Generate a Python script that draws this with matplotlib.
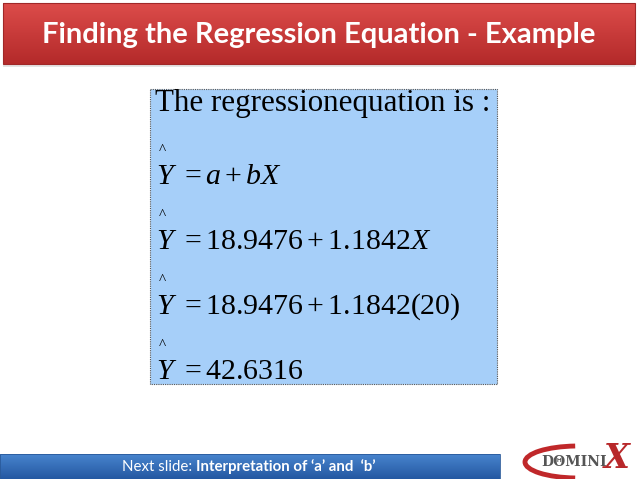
import numpy as np
import matplotlib.pyplot as plt
from matplotlib.patches import Rectangle, Arc

plt.rcParams["mathtext.fontset"] = "custom"
plt.rcParams["mathtext.rm"] = "Liberation Serif"
plt.rcParams["mathtext.it"] = "Liberation Serif:italic"

title = "Finding the Regression Equation - Example"
intro_line = "The regressionequation is :"
equations = [
    r"$Y\,\, = a + bX$",
    r"$Y\,\, = 18.9476 + 1.1842X$",
    r"$Y\,\, = 18.9476 + 1.1842(20)$",
    r"$Y\,\, = 42.6316$",
]
footer_plain = "Next slide: "
footer_bold = "Interpretation of \u2018a\u2019 and  \u2018b\u2019"

W, H = 638, 479
fig = plt.figure(figsize=(W / 100, H / 100), dpi=100)
ax = fig.add_axes([0, 0, 1, 1])
ax.set_xlim(0, W)
ax.set_ylim(H, 0)
ax.axis("off")

# header bar with vertical gradient
top = np.array([220, 76, 74]) / 255
bot = np.array([180, 42, 42]) / 255
grad = np.linspace(0, 1, 64)[:, None, None]
img = top * (1 - grad) + bot * grad
ax.imshow(img, extent=[3, 635, 64, 3], aspect="auto", zorder=1)
ax.add_patch(Rectangle((3, 3), 632, 61, fill=False, edgecolor="#a02828", lw=0.8, zorder=2))
ax.add_patch(Rectangle((3, 64), 632, 3, color="#e4e4e4", lw=0, zorder=0))
ax.text(319, 35, title, color="white", fontsize=21, fontweight="bold",
        family="Lato", ha="center", va="center", zorder=3)

# equation box
ax.add_patch(Rectangle((150, 89), 347, 295, facecolor="#a6cff9", edgecolor="#555555",
                       lw=0.8, linestyle=(0, (1, 1)), zorder=1))
ax.text(155, 111, intro_line, fontsize=22.3, family="Liberation Serif",
        ha="left", va="baseline", zorder=3)
base_y = 184
step = 65
for i, eq in enumerate(equations):
    y = base_y + i * step
    ax.text(159, y - 30, "^", fontsize=11, family="Liberation Serif",
            ha="left", va="baseline", zorder=3)
    ax.text(156, y, eq, fontsize=21.5, ha="left", va="baseline", zorder=3)

# footer bar
ftop = np.array([72, 132, 205]) / 255
fbot = np.array([36, 88, 162]) / 255
fgrad = np.linspace(0, 1, 32)[:, None, None]
fimg = ftop * (1 - fgrad) + fbot * fgrad
ax.imshow(fimg, extent=[0, 500, 479, 454], aspect="auto", zorder=1)
ax.add_patch(Rectangle((0, 454), 500, 25, fill=False, edgecolor="#2a5a9a", lw=0.6, zorder=2))
t1 = ax.text(122, 467, footer_plain, color="white", fontsize=10.8, family="Lato",
             ha="left", va="center", zorder=3)
fig.canvas.draw()
bb = t1.get_window_extent()
x_next = ax.transData.inverted().transform((bb.x1, bb.y0))[0]
ax.text(x_next, 467, footer_bold, color="white", fontsize=10.8, family="Lato",
        fontweight="bold", ha="left", va="center", zorder=3)

# logo
ax.add_patch(Arc((578, 462), 106, 32, theta1=100, theta2=260, color="#c0282a", lw=3.5, zorder=2))
ax.text(541, 462, "D\u0398MINI", fontsize=10, fontweight="bold", family="DejaVu Serif",
        color="#555555", ha="left", va="center", zorder=3)
ax.text(617, 459, "X", fontsize=24, fontweight="bold", style="italic", family="DejaVu Serif",
        color="#b8282a", ha="center", va="center", zorder=3)

fig.savefig("out.png", dpi=100)
